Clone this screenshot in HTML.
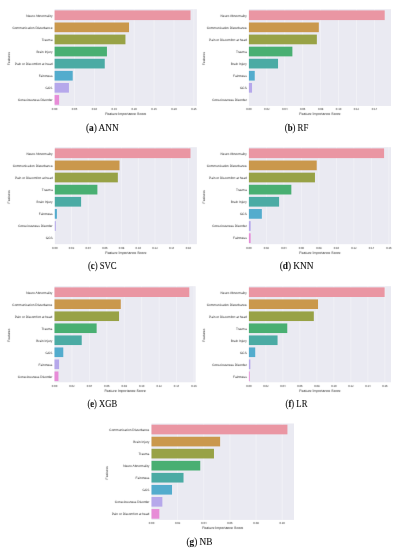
<!DOCTYPE html>
<html lang="en"><head><meta charset="utf-8"><title>Feature importance</title>
<style>html,body{margin:0;padding:0;background:#fff}body{width:406px;height:550px;overflow:hidden}svg{display:block}.yt{font:3.2px "Liberation Sans",sans-serif;fill:#262626;text-anchor:end}.xt{font:2.8px "Liberation Sans",sans-serif;fill:#262626;text-anchor:middle}.al{font:3.56px "Liberation Sans",sans-serif;fill:#262626;text-anchor:middle}.cap{font:9.3px "Liberation Serif",serif;fill:#111;stroke:#111;stroke-width:0.1;text-anchor:middle}.cap tspan{font-weight:bold}.g{stroke:#fff;stroke-width:0.35}.yt,.xt,.al{text-rendering:geometricPrecision;}</style></head><body>
<svg width="406" height="550" viewBox="0 0 406 550">
<defs><filter id="bl" filterUnits="userSpaceOnUse" x="0" y="0" width="406" height="550"><feConvolveMatrix order="3" kernelMatrix="0 1 0 1 14 1 0 1 0" divisor="18"/></filter></defs>
<rect width="406" height="550" fill="#fff"/>
<g>
<rect x="54.6" y="9.2" width="142.3" height="96.75" fill="#eaeaf2"/>
<line class="g" x1="74.5" x2="74.5" y1="9.2" y2="105.95"/>
<line class="g" x1="94.4" x2="94.4" y1="9.2" y2="105.95"/>
<line class="g" x1="114.3" x2="114.3" y1="9.2" y2="105.95"/>
<line class="g" x1="134.2" x2="134.2" y1="9.2" y2="105.95"/>
<line class="g" x1="154.1" x2="154.1" y1="9.2" y2="105.95"/>
<line class="g" x1="174" x2="174" y1="9.2" y2="105.95"/>
<line class="g" x1="193.9" x2="193.9" y1="9.2" y2="105.95"/>
<rect x="54.6" y="10.41" width="135.92" height="9.68" fill="#ea96a3"/>
<rect x="54.6" y="22.5" width="74.43" height="9.68" fill="#ca984c"/>
<rect x="54.6" y="34.6" width="70.84" height="9.68" fill="#98a246"/>
<rect x="54.6" y="46.69" width="52.34" height="9.68" fill="#49af72"/>
<rect x="54.6" y="58.78" width="50.15" height="9.68" fill="#4baba4"/>
<rect x="54.6" y="70.88" width="18.11" height="9.68" fill="#53accd"/>
<rect x="54.6" y="82.97" width="14.33" height="9.68" fill="#b6a8eb"/>
<rect x="54.6" y="95.07" width="4.5" height="9.68" fill="#e78cd7"/>
<text class="cap" x="102.3" y="130.95">(<tspan>a</tspan>) ANN</text>
</g>
<g>
<rect x="248.9" y="9.2" width="142.1" height="96.75" fill="#eaeaf2"/>
<line class="g" x1="266.83" x2="266.83" y1="9.2" y2="105.95"/>
<line class="g" x1="284.76" x2="284.76" y1="9.2" y2="105.95"/>
<line class="g" x1="302.68" x2="302.68" y1="9.2" y2="105.95"/>
<line class="g" x1="320.61" x2="320.61" y1="9.2" y2="105.95"/>
<line class="g" x1="338.54" x2="338.54" y1="9.2" y2="105.95"/>
<line class="g" x1="356.47" x2="356.47" y1="9.2" y2="105.95"/>
<line class="g" x1="374.4" x2="374.4" y1="9.2" y2="105.95"/>
<rect x="248.9" y="10.41" width="135.8" height="9.68" fill="#ea96a3"/>
<rect x="248.9" y="22.5" width="69.92" height="9.68" fill="#ca984c"/>
<rect x="248.9" y="34.6" width="67.95" height="9.68" fill="#98a246"/>
<rect x="248.9" y="46.69" width="43.48" height="9.68" fill="#49af72"/>
<rect x="248.9" y="58.78" width="29.13" height="9.68" fill="#4baba4"/>
<rect x="248.9" y="70.88" width="5.83" height="9.68" fill="#53accd"/>
<rect x="248.9" y="82.97" width="3.14" height="9.68" fill="#b6a8eb"/>
<text class="cap" x="296.5" y="130.95" textLength="23.6" lengthAdjust="spacingAndGlyphs">(<tspan>b</tspan>) RF</text>
</g>
<g>
<rect x="54.8" y="147.2" width="142.1" height="97" fill="#eaeaf2"/>
<line class="g" x1="71.5" x2="71.5" y1="147.2" y2="244.2"/>
<line class="g" x1="88.2" x2="88.2" y1="147.2" y2="244.2"/>
<line class="g" x1="104.9" x2="104.9" y1="147.2" y2="244.2"/>
<line class="g" x1="121.6" x2="121.6" y1="147.2" y2="244.2"/>
<line class="g" x1="138.3" x2="138.3" y1="147.2" y2="244.2"/>
<line class="g" x1="155" x2="155" y1="147.2" y2="244.2"/>
<line class="g" x1="171.7" x2="171.7" y1="147.2" y2="244.2"/>
<line class="g" x1="188.4" x2="188.4" y1="147.2" y2="244.2"/>
<rect x="54.8" y="148.41" width="135.69" height="9.7" fill="#ea96a3"/>
<rect x="54.8" y="160.54" width="64.71" height="9.7" fill="#ca984c"/>
<rect x="54.8" y="172.66" width="63.04" height="9.7" fill="#98a246"/>
<rect x="54.8" y="184.79" width="42.58" height="9.7" fill="#49af72"/>
<rect x="54.8" y="196.91" width="26.3" height="9.7" fill="#4baba4"/>
<rect x="54.8" y="209.04" width="2.09" height="9.7" fill="#53accd"/>
<rect x="54.8" y="221.16" width="1" height="9.7" fill="#b6a8eb"/>
<text class="cap" x="102.3" y="269.2" textLength="28.8" lengthAdjust="spacingAndGlyphs">(<tspan>c</tspan>) SVC</text>
</g>
<g>
<rect x="248.9" y="147.2" width="142.1" height="97" fill="#eaeaf2"/>
<line class="g" x1="266.4" x2="266.4" y1="147.2" y2="244.2"/>
<line class="g" x1="283.9" x2="283.9" y1="147.2" y2="244.2"/>
<line class="g" x1="301.4" x2="301.4" y1="147.2" y2="244.2"/>
<line class="g" x1="318.9" x2="318.9" y1="147.2" y2="244.2"/>
<line class="g" x1="336.4" x2="336.4" y1="147.2" y2="244.2"/>
<line class="g" x1="353.9" x2="353.9" y1="147.2" y2="244.2"/>
<line class="g" x1="371.4" x2="371.4" y1="147.2" y2="244.2"/>
<line class="g" x1="388.9" x2="388.9" y1="147.2" y2="244.2"/>
<rect x="248.9" y="148.41" width="135.19" height="9.7" fill="#ea96a3"/>
<rect x="248.9" y="160.54" width="67.81" height="9.7" fill="#ca984c"/>
<rect x="248.9" y="172.66" width="66.06" height="9.7" fill="#98a246"/>
<rect x="248.9" y="184.79" width="42.44" height="9.7" fill="#49af72"/>
<rect x="248.9" y="196.91" width="30.19" height="9.7" fill="#4baba4"/>
<rect x="248.9" y="209.04" width="12.95" height="9.7" fill="#53accd"/>
<rect x="248.9" y="221.16" width="1.75" height="9.7" fill="#b6a8eb"/>
<rect x="248.9" y="233.29" width="1.75" height="9.7" fill="#e78cd7"/>
<text class="cap" x="296.6" y="269.2">(<tspan>d</tspan>) KNN</text>
</g>
<g>
<rect x="54.5" y="286.2" width="141.1" height="96.1" fill="#eaeaf2"/>
<line class="g" x1="71.94" x2="71.94" y1="286.2" y2="382.3"/>
<line class="g" x1="89.38" x2="89.38" y1="286.2" y2="382.3"/>
<line class="g" x1="106.82" x2="106.82" y1="286.2" y2="382.3"/>
<line class="g" x1="124.26" x2="124.26" y1="286.2" y2="382.3"/>
<line class="g" x1="141.7" x2="141.7" y1="286.2" y2="382.3"/>
<line class="g" x1="159.14" x2="159.14" y1="286.2" y2="382.3"/>
<line class="g" x1="176.58" x2="176.58" y1="286.2" y2="382.3"/>
<line class="g" x1="194.02" x2="194.02" y1="286.2" y2="382.3"/>
<rect x="54.5" y="287.4" width="134.78" height="9.61" fill="#ea96a3"/>
<rect x="54.5" y="299.41" width="66.29" height="9.61" fill="#ca984c"/>
<rect x="54.5" y="311.43" width="64.54" height="9.61" fill="#98a246"/>
<rect x="54.5" y="323.44" width="42.14" height="9.61" fill="#49af72"/>
<rect x="54.5" y="335.45" width="27.22" height="9.61" fill="#4baba4"/>
<rect x="54.5" y="347.46" width="8.78" height="9.61" fill="#53accd"/>
<rect x="54.5" y="359.48" width="4.57" height="9.61" fill="#b6a8eb"/>
<rect x="54.5" y="371.49" width="3.95" height="9.61" fill="#e78cd7"/>
<text class="cap" x="102.3" y="407.3" textLength="29.7" lengthAdjust="spacingAndGlyphs">(<tspan>e</tspan>) XGB</text>
</g>
<g>
<rect x="248.9" y="286.2" width="142.1" height="96.1" fill="#eaeaf2"/>
<line class="g" x1="265.9" x2="265.9" y1="286.2" y2="382.3"/>
<line class="g" x1="282.9" x2="282.9" y1="286.2" y2="382.3"/>
<line class="g" x1="299.9" x2="299.9" y1="286.2" y2="382.3"/>
<line class="g" x1="316.9" x2="316.9" y1="286.2" y2="382.3"/>
<line class="g" x1="333.9" x2="333.9" y1="286.2" y2="382.3"/>
<line class="g" x1="350.9" x2="350.9" y1="286.2" y2="382.3"/>
<line class="g" x1="367.9" x2="367.9" y1="286.2" y2="382.3"/>
<line class="g" x1="384.9" x2="384.9" y1="286.2" y2="382.3"/>
<rect x="248.9" y="287.4" width="135.72" height="9.61" fill="#ea96a3"/>
<rect x="248.9" y="299.41" width="69.12" height="9.61" fill="#ca984c"/>
<rect x="248.9" y="311.43" width="64.91" height="9.61" fill="#98a246"/>
<rect x="248.9" y="323.44" width="38.36" height="9.61" fill="#49af72"/>
<rect x="248.9" y="335.45" width="28.66" height="9.61" fill="#4baba4"/>
<rect x="248.9" y="347.46" width="6.32" height="9.61" fill="#53accd"/>
<rect x="248.9" y="359.48" width="1.44" height="9.61" fill="#b6a8eb"/>
<rect x="248.9" y="371.49" width="0.84" height="9.61" fill="#e78cd7"/>
<text class="cap" x="296.5" y="407.3" textLength="21.9" lengthAdjust="spacingAndGlyphs">(<tspan>f</tspan>) LR</text>
</g>
<g>
<rect x="151.5" y="423.5" width="142.5" height="96.4" fill="#eaeaf2"/>
<line class="g" x1="177.64" x2="177.64" y1="423.5" y2="519.9"/>
<line class="g" x1="203.78" x2="203.78" y1="423.5" y2="519.9"/>
<line class="g" x1="229.92" x2="229.92" y1="423.5" y2="519.9"/>
<line class="g" x1="256.06" x2="256.06" y1="423.5" y2="519.9"/>
<line class="g" x1="282.2" x2="282.2" y1="423.5" y2="519.9"/>
<rect x="151.5" y="424.7" width="135.93" height="9.64" fill="#ea96a3"/>
<rect x="151.5" y="436.75" width="68.62" height="9.64" fill="#ca984c"/>
<rect x="151.5" y="448.81" width="62.47" height="9.64" fill="#98a246"/>
<rect x="151.5" y="460.86" width="48.75" height="9.64" fill="#49af72"/>
<rect x="151.5" y="472.9" width="32.02" height="9.64" fill="#4baba4"/>
<rect x="151.5" y="484.95" width="20.52" height="9.64" fill="#53accd"/>
<rect x="151.5" y="497" width="10.85" height="9.64" fill="#b6a8eb"/>
<rect x="151.5" y="509.06" width="7.84" height="9.64" fill="#e78cd7"/>
<text class="cap" x="199.5" y="544.9">(<tspan>g</tspan>) NB</text>
</g>
<g filter="url(#bl)">
<text class="yt" x="52.5" y="16.55">Neuro Abnormality</text>
<text class="yt" x="52.5" y="28.64">Communication Disturbance</text>
<text class="yt" x="52.5" y="40.73">Trauma</text>
<text class="yt" x="52.5" y="52.83">Brain Injury</text>
<text class="yt" x="52.5" y="64.92">Pain or Discomfort at head</text>
<text class="yt" x="52.5" y="77.02">Faintness</text>
<text class="yt" x="52.5" y="89.11">GCS</text>
<text class="yt" x="52.5" y="101.2">Consciousness Disorder</text>
<text class="xt" x="54.6" y="110.45">0.00</text>
<text class="xt" x="74.5" y="110.45">0.05</text>
<text class="xt" x="94.4" y="110.45">0.10</text>
<text class="xt" x="114.3" y="110.45">0.15</text>
<text class="xt" x="134.2" y="110.45">0.20</text>
<text class="xt" x="154.1" y="110.45">0.25</text>
<text class="xt" x="174" y="110.45">0.30</text>
<text class="xt" x="193.9" y="110.45">0.35</text>
<text class="al" x="125.75" y="115.35">Feature Importance Score</text>
<text class="al" style="font-size:3.4px" transform="translate(10.4 58.58) rotate(-90)">Features</text>
<text class="yt" x="246.8" y="16.55">Neuro Abnormality</text>
<text class="yt" x="246.8" y="28.64">Communication Disturbance</text>
<text class="yt" x="246.8" y="40.73">Pain or Discomfort at head</text>
<text class="yt" x="246.8" y="52.83">Trauma</text>
<text class="yt" x="246.8" y="64.92">Brain Injury</text>
<text class="yt" x="246.8" y="77.02">Faintness</text>
<text class="yt" x="246.8" y="89.11">GCS</text>
<text class="yt" x="246.8" y="101.2">Consciousness Disorder</text>
<text class="xt" x="248.9" y="110.45">0.00</text>
<text class="xt" x="266.83" y="110.45">0.02</text>
<text class="xt" x="284.76" y="110.45">0.04</text>
<text class="xt" x="302.68" y="110.45">0.06</text>
<text class="xt" x="320.61" y="110.45">0.08</text>
<text class="xt" x="338.54" y="110.45">0.10</text>
<text class="xt" x="356.47" y="110.45">0.12</text>
<text class="xt" x="374.4" y="110.45">0.14</text>
<text class="al" x="319.95" y="115.35">Feature Importance Score</text>
<text class="al" style="font-size:3.4px" transform="translate(204.9 58.58) rotate(-90)">Features</text>
<text class="yt" x="52.7" y="154.56">Neuro Abnormality</text>
<text class="yt" x="52.7" y="166.69">Communication Disturbance</text>
<text class="yt" x="52.7" y="178.81">Pain or Discomfort at head</text>
<text class="yt" x="52.7" y="190.94">Trauma</text>
<text class="yt" x="52.7" y="203.06">Brain Injury</text>
<text class="yt" x="52.7" y="215.19">Faintness</text>
<text class="yt" x="52.7" y="227.31">Consciousness Disorder</text>
<text class="yt" x="52.7" y="239.44">GCS</text>
<text class="xt" x="54.8" y="248.7">0.00</text>
<text class="xt" x="71.5" y="248.7">0.02</text>
<text class="xt" x="88.2" y="248.7">0.04</text>
<text class="xt" x="104.9" y="248.7">0.06</text>
<text class="xt" x="121.6" y="248.7">0.08</text>
<text class="xt" x="138.3" y="248.7">0.10</text>
<text class="xt" x="155" y="248.7">0.12</text>
<text class="xt" x="171.7" y="248.7">0.14</text>
<text class="xt" x="188.4" y="248.7">0.16</text>
<text class="al" x="125.85" y="253.6">Feature Importance Score</text>
<text class="al" style="font-size:3.4px" transform="translate(10.4 196.7) rotate(-90)">Features</text>
<text class="yt" x="246.8" y="154.56">Neuro Abnormality</text>
<text class="yt" x="246.8" y="166.69">Communication Disturbance</text>
<text class="yt" x="246.8" y="178.81">Pain or Discomfort at head</text>
<text class="yt" x="246.8" y="190.94">Trauma</text>
<text class="yt" x="246.8" y="203.06">Brain Injury</text>
<text class="yt" x="246.8" y="215.19">GCS</text>
<text class="yt" x="246.8" y="227.31">Consciousness Disorder</text>
<text class="yt" x="246.8" y="239.44">Faintness</text>
<text class="xt" x="248.9" y="248.7">0.00</text>
<text class="xt" x="266.4" y="248.7">0.02</text>
<text class="xt" x="283.9" y="248.7">0.04</text>
<text class="xt" x="301.4" y="248.7">0.06</text>
<text class="xt" x="318.9" y="248.7">0.08</text>
<text class="xt" x="336.4" y="248.7">0.10</text>
<text class="xt" x="353.9" y="248.7">0.12</text>
<text class="xt" x="371.4" y="248.7">0.14</text>
<text class="xt" x="388.9" y="248.7">0.16</text>
<text class="al" x="319.95" y="253.6">Feature Importance Score</text>
<text class="al" style="font-size:3.4px" transform="translate(204.9 196.7) rotate(-90)">Features</text>
<text class="yt" x="52.4" y="293.51">Neuro Abnormality</text>
<text class="yt" x="52.4" y="305.52">Communication Disturbance</text>
<text class="yt" x="52.4" y="317.53">Pain or Discomfort at head</text>
<text class="yt" x="52.4" y="329.54">Trauma</text>
<text class="yt" x="52.4" y="341.56">Brain Injury</text>
<text class="yt" x="52.4" y="353.57">GCS</text>
<text class="yt" x="52.4" y="365.58">Faintness</text>
<text class="yt" x="52.4" y="377.59">Consciousness Disorder</text>
<text class="xt" x="54.5" y="386.8">0.00</text>
<text class="xt" x="71.94" y="386.8">0.02</text>
<text class="xt" x="89.38" y="386.8">0.04</text>
<text class="xt" x="106.82" y="386.8">0.06</text>
<text class="xt" x="124.26" y="386.8">0.08</text>
<text class="xt" x="141.7" y="386.8">0.10</text>
<text class="xt" x="159.14" y="386.8">0.12</text>
<text class="xt" x="176.58" y="386.8">0.14</text>
<text class="xt" x="194.02" y="386.8">0.16</text>
<text class="al" x="125.05" y="391.7">Feature Importance Score</text>
<text class="al" style="font-size:3.4px" transform="translate(10.4 335.25) rotate(-90)">Features</text>
<text class="yt" x="246.8" y="293.51">Neuro Abnormality</text>
<text class="yt" x="246.8" y="305.52">Communication Disturbance</text>
<text class="yt" x="246.8" y="317.53">Pain or Discomfort at head</text>
<text class="yt" x="246.8" y="329.54">Trauma</text>
<text class="yt" x="246.8" y="341.56">Brain Injury</text>
<text class="yt" x="246.8" y="353.57">GCS</text>
<text class="yt" x="246.8" y="365.58">Consciousness Disorder</text>
<text class="yt" x="246.8" y="377.59">Faintness</text>
<text class="xt" x="248.9" y="386.8">0.00</text>
<text class="xt" x="265.9" y="386.8">0.02</text>
<text class="xt" x="282.9" y="386.8">0.04</text>
<text class="xt" x="299.9" y="386.8">0.06</text>
<text class="xt" x="316.9" y="386.8">0.08</text>
<text class="xt" x="333.9" y="386.8">0.10</text>
<text class="xt" x="350.9" y="386.8">0.12</text>
<text class="xt" x="367.9" y="386.8">0.14</text>
<text class="xt" x="384.9" y="386.8">0.16</text>
<text class="al" x="319.95" y="391.7">Feature Importance Score</text>
<text class="al" style="font-size:3.4px" transform="translate(204.9 335.25) rotate(-90)">Features</text>
<text class="yt" x="149.4" y="430.82">Communication Disturbance</text>
<text class="yt" x="149.4" y="442.88">Brain Injury</text>
<text class="yt" x="149.4" y="454.93">Trauma</text>
<text class="yt" x="149.4" y="466.98">Neuro Abnormality</text>
<text class="yt" x="149.4" y="479.02">Faintness</text>
<text class="yt" x="149.4" y="491.07">GCS</text>
<text class="yt" x="149.4" y="503.12">Consciousness Disorder</text>
<text class="yt" x="149.4" y="515.17">Pain or Discomfort at head</text>
<text class="xt" x="151.5" y="524.4">0.00</text>
<text class="xt" x="177.64" y="524.4">0.02</text>
<text class="xt" x="203.78" y="524.4">0.04</text>
<text class="xt" x="229.92" y="524.4">0.06</text>
<text class="xt" x="256.06" y="524.4">0.08</text>
<text class="xt" x="282.2" y="524.4">0.10</text>
<text class="al" x="222.75" y="529.3">Feature Importance Score</text>
<text class="al" style="font-size:3.4px" transform="translate(108.4 472.7) rotate(-90)">Features</text>
</g>
</svg></body></html>
